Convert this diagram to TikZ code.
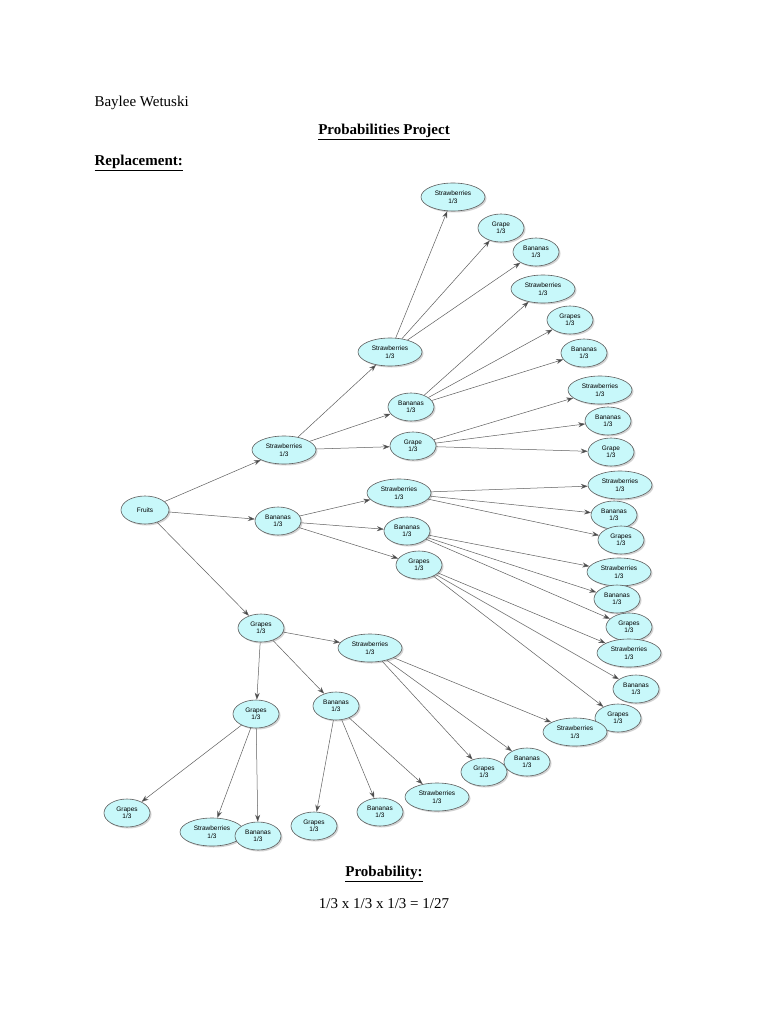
\documentclass[tikz,border=0pt]{standalone}
\usepackage{fontspec}
\setmainfont{Liberation Serif}
\newfontfamily\nodefont{Liberation Sans}
\usetikzlibrary{shapes.geometric,shadows,arrows.meta}
\definecolor{nodefill}{RGB}{200,248,250}
\definecolor{edgecol}{RGB}{95,95,95}
\tikzset{
  fr/.style={ellipse,draw=edgecol,fill=nodefill,line width=0.6pt,minimum height=28pt,minimum width=46pt,inner sep=1pt,
    font=\nodefont\fontsize{6.5}{7.5}\selectfont,align=center,
    drop shadow={shadow xshift=1.5pt,shadow yshift=-1.5pt,fill=gray!70}},
  wide/.style={minimum width=64pt},
  con/.style={draw=edgecol,line width=0.5pt,-{Stealth[length=7pt,width=5pt,fill=black!75]}},
  head/.style={font=\fontsize{15}{18}\selectfont}
}
\begin{document}
\begin{tikzpicture}[x=1pt,y=-1pt]
\useasboundingbox[fill=white] (0,0) rectangle (768,1024);
\node[head,anchor=west] (name) at (91,103) {Baylee Wetuski};
\node[head,font=\fontsize{15}{18}\selectfont\bfseries] (title) at (384,132) {\underline{Probabilities Project}};
\node[head,font=\fontsize{15}{18}\selectfont\bfseries,anchor=west] (repl) at (91,163) {\underline{Replacement:}};
\node[head,font=\fontsize{15}{18}\selectfont\bfseries] (prob) at (384,874) {\underline{Probability:}};
\node[head] (eq) at (384,904) {1/3 x 1/3 x 1/3 = 1/27};

\node[fr,minimum width=48pt] (F) at (145,510) {Fruits};
\node[fr,wide] (S1) at (284,450) {Strawberries\\1/3};
\node[fr] (B1) at (278,521) {Bananas\\1/3};
\node[fr] (G1) at (261,628) {Grapes\\1/3};

\node[fr,wide] (SS) at (390,352) {Strawberries\\1/3};
\node[fr] (SB) at (411,407) {Bananas\\1/3};
\node[fr] (SG) at (413,446) {Grape\\1/3};

\node[fr,wide] (SSa) at (453,197) {Strawberries\\1/3};
\node[fr] (SSb) at (501,228) {Grape\\1/3};
\node[fr] (SSc) at (536,252) {Bananas\\1/3};
\node[fr,wide] (SBa) at (543,289) {Strawberries\\1/3};
\node[fr] (SBb) at (570,320) {Grapes\\1/3};
\node[fr] (SBc) at (584,353) {Bananas\\1/3};
\node[fr,wide] (SGa) at (600,390) {Strawberries\\1/3};
\node[fr] (SGb) at (608,421) {Bananas\\1/3};
\node[fr] (SGc) at (611,452) {Grape\\1/3};

\node[fr,wide] (BS) at (399,493) {Strawberries\\1/3};
\node[fr] (BB) at (407,531) {Bananas\\1/3};
\node[fr] (BG) at (419,565) {Grapes\\1/3};
\node[fr,wide] (BSa) at (620,485) {Strawberries\\1/3};
\node[fr] (BSb) at (614,515) {Bananas\\1/3};
\node[fr] (BSc) at (621,540) {Grapes\\1/3};
\node[fr,wide] (BBa) at (619,572) {Strawberries\\1/3};
\node[fr] (BBb) at (617,599) {Bananas\\1/3};
\node[fr] (BBc) at (629,627) {Grapes\\1/3};
\node[fr,wide] (BGa) at (629,653) {Strawberries\\1/3};
\node[fr] (BGb) at (636,689) {Bananas\\1/3};
\node[fr] (BGc) at (618,718) {Grapes\\1/3};

\node[fr,wide] (GS) at (370,648) {Strawberries\\1/3};
\node[fr] (GG) at (256,714) {Grapes\\1/3};
\node[fr] (GB) at (336,706) {Bananas\\1/3};
\node[fr,wide] (GSa) at (575,732) {Strawberries\\1/3};
\node[fr] (GSb) at (484,772) {Grapes\\1/3};
\node[fr] (GSc) at (527,762) {Bananas\\1/3};
\node[fr] (GGa) at (127,813) {Grapes\\1/3};
\node[fr,wide] (GGb) at (212,832) {Strawberries\\1/3};
\node[fr] (GGc) at (258,836) {Bananas\\1/3};
\node[fr] (GBa) at (314,826) {Grapes\\1/3};
\node[fr] (GBb) at (380,812) {Bananas\\1/3};
\node[fr,wide] (GBc) at (437,797) {Strawberries\\1/3};

\foreach \a/\b in {F/S1,F/B1,F/G1,S1/SS,S1/SB,S1/SG,SS/SSa,SS/SSb,SS/SSc,SB/SBa,SB/SBb,SB/SBc,SG/SGa,SG/SGb,SG/SGc,
  B1/BS,B1/BB,B1/BG,BS/BSa,BS/BSb,BS/BSc,BB/BBa,BB/BBb,BB/BBc,BG/BGa,BG/BGb,BG/BGc,
  G1/GS,G1/GG,G1/GB,GS/GSa,GS/GSb,GS/GSc,GG/GGa,GG/GGb,GG/GGc,GB/GBa,GB/GBb,GB/GBc}
  \draw[con] (\a) -- (\b);
\end{tikzpicture}
\end{document}
